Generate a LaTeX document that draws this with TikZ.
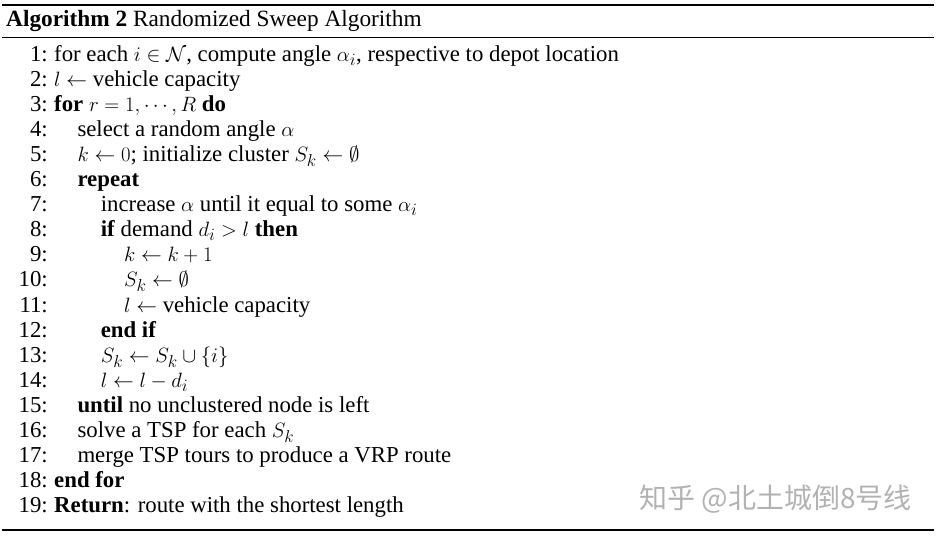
\documentclass[tikz,border=0pt]{standalone}
\usepackage{fontspec}
\setmainfont{Liberation Serif}
\newfontfamily\cjk{Noto Sans CJK SC}
\begin{document}
\begin{tikzpicture}[x=1pt,y=-1pt,
  ln/.style={anchor=base east,inner sep=0pt,font=\fontsize{22.8}{26}\selectfont},
  tx/.style={anchor=base west,inner sep=0pt,font=\fontsize{22.8}{26}\selectfont}]
\useasboundingbox (0,0) rectangle (936,538);
\draw[line width=1.2pt] (2,5) -- (934,5);
\draw[line width=0.7pt] (2,37) -- (934,37);
\draw[line width=1.2pt] (2,530) -- (934,530);
\node[tx,font=\fontsize{23.3}{26}\selectfont] (h) at (6,27) {\textbf{Algorithm 2} Randomized Sweep Algorithm};
\def\L#1#2#3{\node[ln] (n#1) at (48,{61+25.1*(#1-1)}) {#1:};
  \node[tx] (t#1) at ({54+23.3*#2},{61+25.1*(#1-1)}) {#3};}
\L{1}{0}{for each $i\in\mathcal{N}$, compute angle $\alpha_i$, respective to depot location}
\L{2}{0}{$l\leftarrow$ vehicle capacity}
\L{3}{0}{\textbf{for} $r=1,\cdots,R$ \textbf{do}}
\L{4}{1}{select a random angle $\alpha$}
\L{5}{1}{$k\leftarrow0$; initialize cluster $S_k\leftarrow\emptyset$}
\L{6}{1}{\textbf{repeat}}
\L{7}{2}{increase $\alpha$ until it equal to some $\alpha_i$}
\L{8}{2}{\textbf{if} demand $d_i>l$ \textbf{then}}
\L{9}{3}{$k\leftarrow k+1$}
\L{10}{3}{$S_k\leftarrow\emptyset$}
\L{11}{3}{$l\leftarrow$ vehicle capacity}
\L{12}{2}{\textbf{end if}}
\L{13}{2}{$S_k\leftarrow S_k\cup\{i\}$}
\L{14}{2}{$l\leftarrow l-d_i$}
\L{15}{1}{\textbf{until} no unclustered node is left}
\L{16}{1}{solve a TSP for each $S_k$}
\L{17}{1}{merge TSP tours to produce a VRP route}
\L{18}{0}{\textbf{end for}}
\L{19}{0}{\textbf{Return}: route with the shortest length}
\node[anchor=base east,inner sep=0pt,text=black!30,font=\cjk\fontsize{28}{30}\selectfont] (wm) at (912,508) {知乎 @北土城倒8号线};
\end{tikzpicture}
\end{document}
